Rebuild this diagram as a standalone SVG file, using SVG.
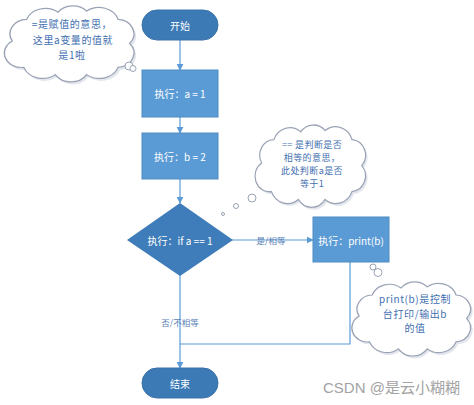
<svg xmlns="http://www.w3.org/2000/svg" width="474" height="405" viewBox="0 0 474 405">
<style>
.term{fill:#3C7AB6;stroke:#3A72AA;stroke-width:1}
.box{fill:#5B9BD5;stroke:#4F8CC4;stroke-width:1}
.dia{fill:#3E7DB9}
.nt{font-family:"Noto Sans CJK SC","Liberation Sans",sans-serif;font-size:10px;fill:#ffffff;text-anchor:middle;dominant-baseline:central}
.ct{font-family:"Noto Sans CJK SC","Liberation Sans",sans-serif;font-size:10px;fill:#3F70B0;text-anchor:middle;letter-spacing:0.6px}
.ct2{font-family:"Noto Sans CJK SC","Liberation Sans",sans-serif;font-size:9px;fill:#3F70B0;text-anchor:middle;letter-spacing:0.4px}
.lt{font-family:"Noto Sans CJK SC","Liberation Sans",sans-serif;font-size:8.5px;fill:#5A7FB5;text-anchor:middle;dominant-baseline:central}
.ln{fill:none;stroke:#5B9BD5;stroke-width:1.2}
.cl{fill:#ffffff;stroke:#9AA3B5;stroke-width:1;vector-effect:non-scaling-stroke}
.sh{fill:#E3E6EC;stroke:none}
.wm{font-family:"Liberation Sans","Noto Sans CJK SC",sans-serif;font-size:15px;fill:#A3A3A3}
</style>
<defs>
<marker id="ah" viewBox="0 0 10 10" refX="9" refY="5" markerWidth="7" markerHeight="7" orient="auto" markerUnits="userSpaceOnUse">
<path d="M0,0 L10,5 L0,10 Z" fill="#5B9BD5"/>
</marker>
<path id="cloud" d="M10,30 A12,12 0 0 1 20,12 A14,14 0 0 1 42,6 A13,13 0 0 1 62,5 A14,14 0 0 1 84,12 A12,12 0 0 1 92,32 A12,12 0 0 1 84,52 A14,14 0 0 1 62,58 A13,13 0 0 1 40,58 A14,14 0 0 1 18,52 A12,12 0 0 1 10,30 Z"/>
</defs>

<g id="connectors">
<line class="ln" x1="180" y1="40" x2="180" y2="70" marker-end="url(#ah)"/>
<line class="ln" x1="180" y1="117" x2="180" y2="133" marker-end="url(#ah)"/>
<line class="ln" x1="180" y1="179" x2="180" y2="203" marker-end="url(#ah)"/>
<line class="ln" x1="232" y1="240" x2="313" y2="240" marker-end="url(#ah)"/>
<line class="ln" x1="180" y1="275" x2="180" y2="368" marker-end="url(#ah)"/>
<polyline class="ln" points="350,262 350,344 180,344"/>
<text class="lt" x="271" y="240">是/相等</text>
<text class="lt" x="180" y="322">否/不相等</text>
</g>

<g id="start">
<rect class="term" x="142" y="10" width="76" height="30" rx="15"/>
<text class="nt" x="180" y="25">开始</text>
</g>
<g id="step1">
<rect class="box" x="142" y="70" width="76" height="47"/>
<text class="nt" x="180" y="93">执行：a = 1</text>
</g>
<g id="step2">
<rect class="box" x="142" y="133" width="76" height="46"/>
<text class="nt" x="180" y="156">执行：b = 2</text>
</g>
<g id="decision">
<polygon class="dia" points="180,203 233,240 180,276 127,240"/>
<text class="nt" x="180" y="240">执行：if a == 1</text>
</g>
<g id="print">
<rect class="box" x="313" y="217" width="76" height="45"/>
<text class="nt" x="351" y="240">执行：print(b)</text>
</g>
<g id="end">
<rect class="term" x="142" y="368" width="76" height="30" rx="15"/>
<text class="nt" x="180" y="383">结束</text>
</g>

<g id="note1">
<use href="#cloud" class="sh" transform="translate(0,7.5) scale(1.43,1.2)"/>
<use href="#cloud" class="cl" transform="translate(-2,5) scale(1.43,1.2)"/>
<circle class="cl" cx="129" cy="66" r="4"/>
<circle class="cl" cx="133" cy="68.5" r="3"/>
<text class="ct" x="72" y="28">=是赋值的意思，</text>
<text class="ct" x="73" y="44">这里a变量的值就</text>
<text class="ct" x="72" y="59">是1啦</text>
</g>

<g id="note2">
<use href="#cloud" class="sh" transform="translate(251.5,126.5) scale(1.22,1.3)"/>
<use href="#cloud" class="cl" transform="translate(249.5,124) scale(1.22,1.3)"/>
<circle class="cl" cx="252" cy="198" r="4"/>
<circle class="cl" cx="236" cy="206" r="2.5"/>
<circle class="cl" cx="223" cy="214" r="1.5"/>
<text class="ct2" x="312" y="148">== 是判断是否</text>
<text class="ct2" x="312" y="161">相等的意思，</text>
<text class="ct2" x="312" y="174">此处判断a是否</text>
<text class="ct2" x="312" y="187">等于1</text>
</g>

<g id="note3">
<use href="#cloud" class="sh" transform="translate(348,283.5) scale(1.31,1.17)"/>
<use href="#cloud" class="cl" transform="translate(346,281) scale(1.31,1.17)"/>
<circle class="cl" cx="373" cy="267" r="3"/>
<circle class="cl" cx="378" cy="272.5" r="4"/>
<text class="ct" x="415" y="303">print(b)是控制</text>
<text class="ct" x="415" y="317.5">台打印/输出b</text>
<text class="ct" x="415" y="332">的值</text>
</g>

<text class="wm" x="323" y="393">CSDN @是云小糊糊</text>
</svg>
